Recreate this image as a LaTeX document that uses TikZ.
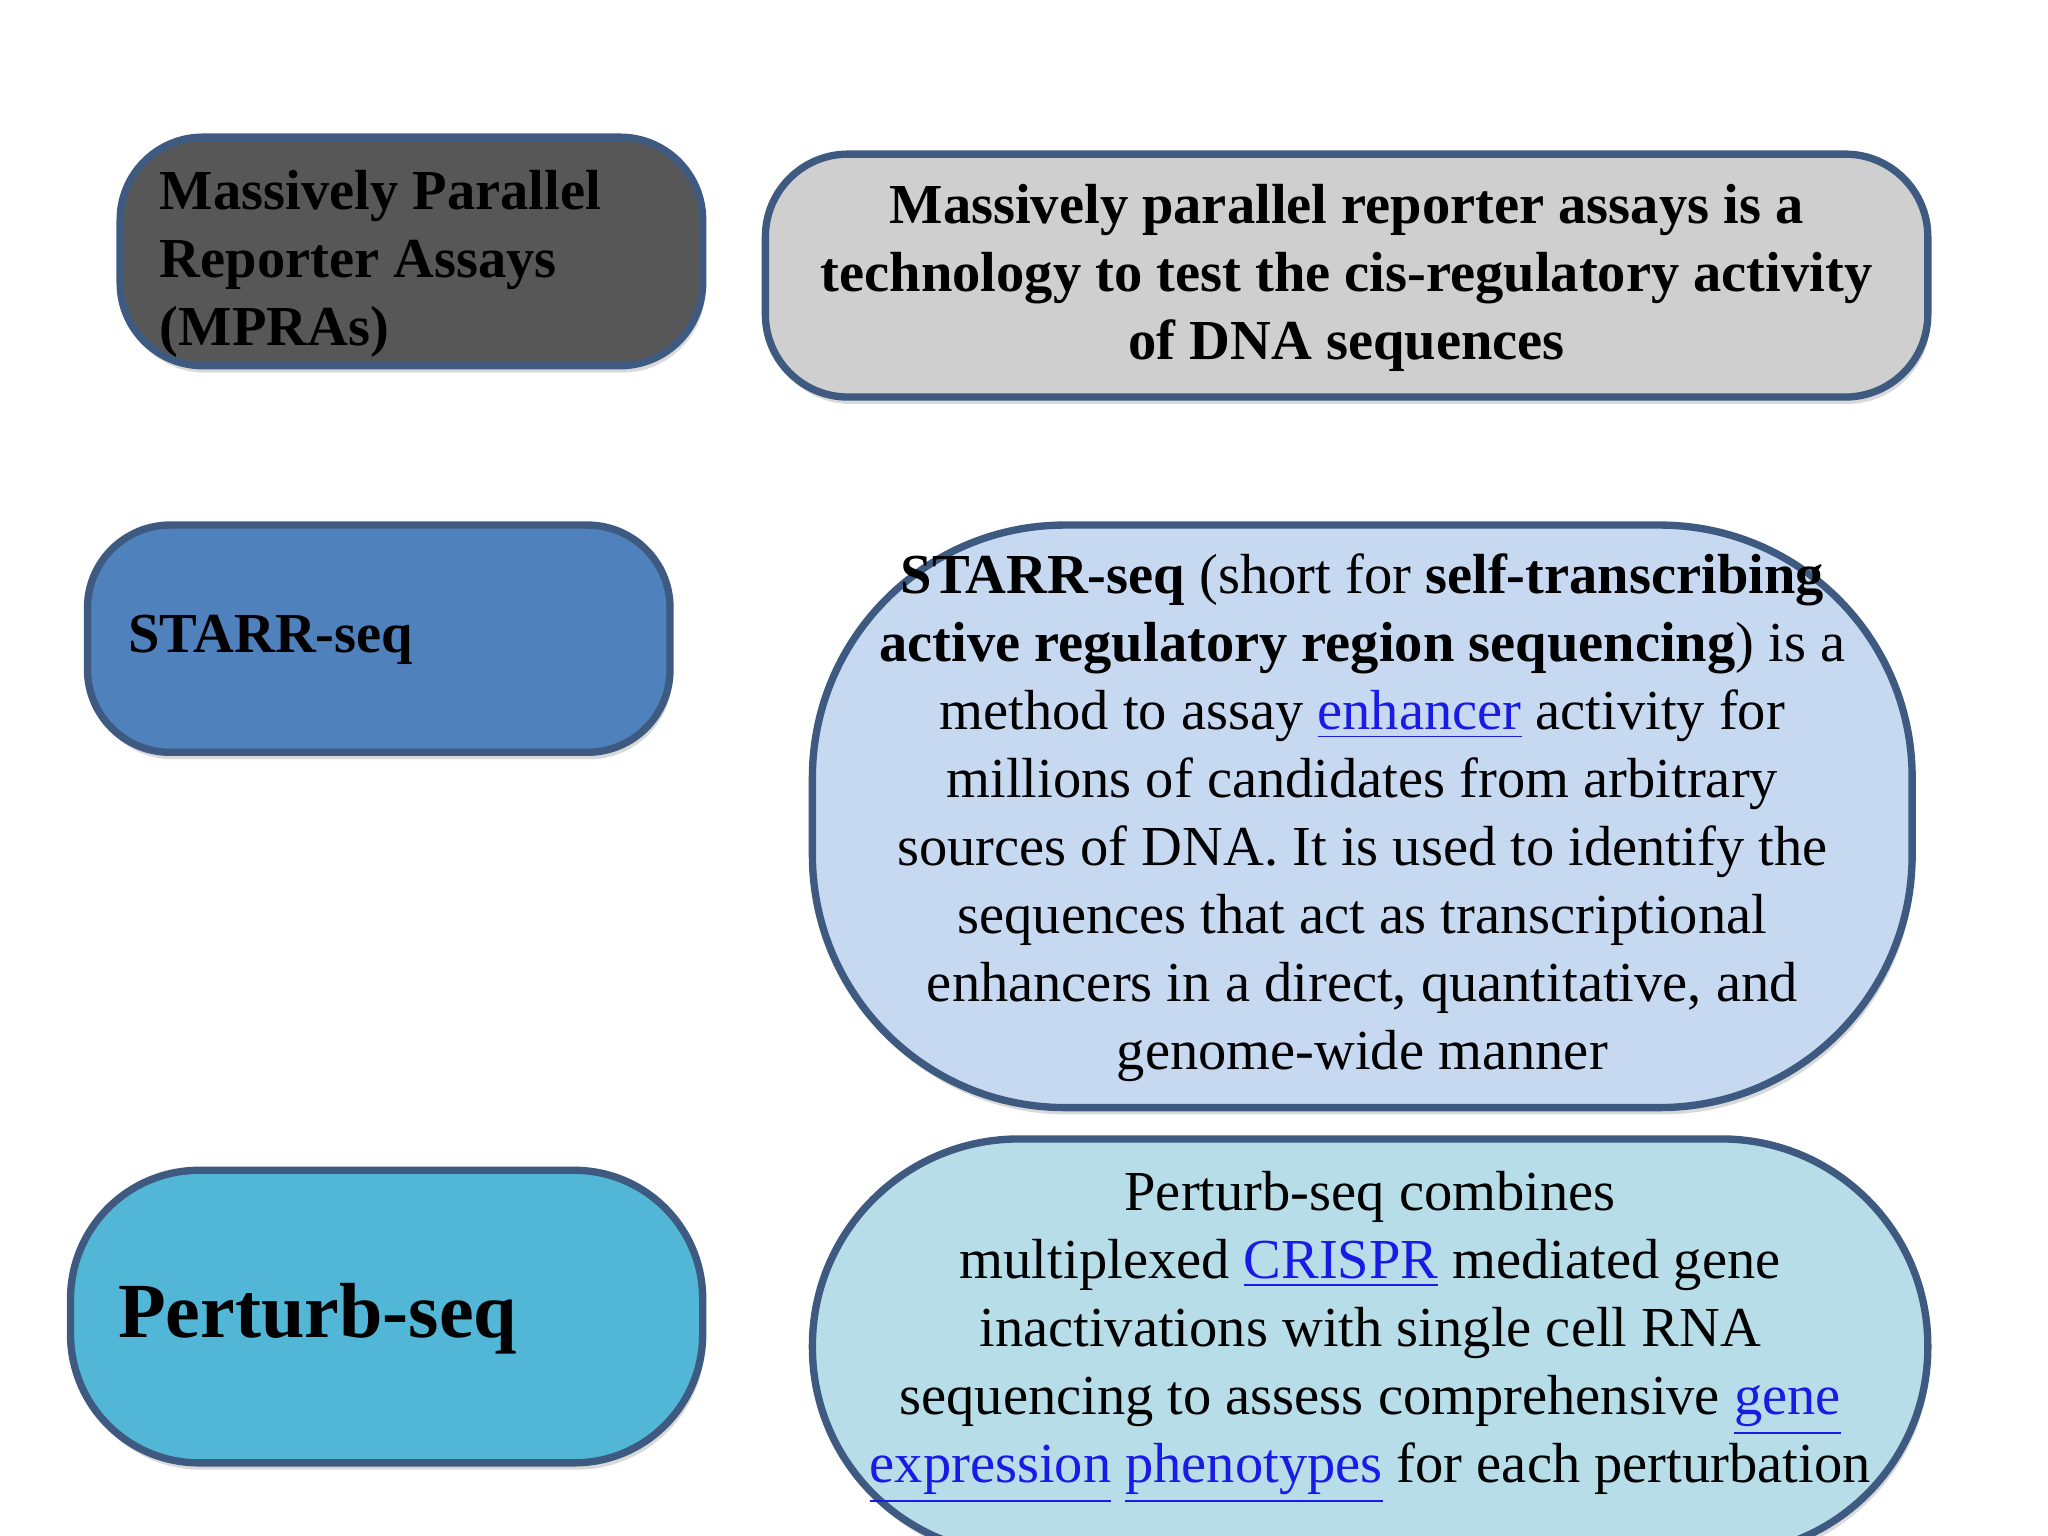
\documentclass[tikz,border=0pt]{standalone}
\usepackage{fontspec}
\setmainfont{Liberation Serif}
\usetikzlibrary{shadows}
\definecolor{bord}{HTML}{3F5A80}
\definecolor{linkc}{HTML}{1A1AE6}
\newcommand{\lnk}[1]{\textcolor{linkc}{\underline{#1}}}
\tikzset{
  box/.style={draw=bord, line width=1.6pt, rounded corners=18pt, drop shadow={shadow xshift=0.5pt,shadow yshift=-1.5pt,opacity=0.3}},
  txt/.style={font=\fontsize{12.3}{14.8}\selectfont, align=center, text=black},
}
\begin{document}
\begin{tikzpicture}[x=0.01cm,y=-0.01cm]
\useasboundingbox (0,0) rectangle (1568,1176);
% boxes
\draw[box, fill=black!66] (92,105) rectangle (538,280);
\draw[box, fill=black!19] (586,118) rectangle (1476,304);
\draw[box, fill={rgb,255:red,79;green,129;blue,189}] (67,402) rectangle (513,576);
\draw[box, rounded corners=55pt, fill={rgb,255:red,198;green,217;blue,241}] (622,402) rectangle (1464,848);
\draw[box, rounded corners=28pt, fill={rgb,255:red,82;green,183;blue,214}] (54,896) rectangle (538,1120);
\draw[box, rounded corners=45pt, fill={rgb,255:red,183;green,221;blue,232}] (622,872) rectangle (1476,1190);
% texts
\node[txt, align=left, anchor=north west, font=\fontsize{12.3}{14.8}\selectfont\bfseries] (t1) at (110,118)
 {Massively Parallel\\Reporter Assays\\(MPRAs)};
\node[txt, font=\fontsize{12.3}{14.8}\selectfont\bfseries] (t2) at (1031,213)
 {Massively parallel reporter assays is a\\technology to test the cis-regulatory activity\\of DNA sequences};
\node[txt, anchor=west, font=\fontsize{12.3}{14.8}\selectfont\bfseries] (t3) at (86,490) {STARR-seq};
\node[txt] (t4) at (1043,626)
 {\textbf{STARR-seq} (short for \textbf{self-transcribing}\\\textbf{active regulatory region sequencing}) is a\\method to assay \lnk{enhancer} activity for\\millions of candidates from arbitrary\\sources of DNA. It is used to identify the\\sequences that act as transcriptional\\enhancers in a direct, quantitative, and\\genome-wide manner};
\node[txt, anchor=west, font=\fontsize{17}{20}\selectfont\bfseries] (t5) at (78,1010) {Perturb-seq};
\node[txt] (t6) at (1049,1024)
 {Perturb-seq combines\\multiplexed \lnk{CRISPR} mediated gene\\inactivations with single cell RNA\\sequencing to assess comprehensive \lnk{gene}\\\lnk{expression} \lnk{phenotypes} for each perturbation};
\end{tikzpicture}
\end{document}
